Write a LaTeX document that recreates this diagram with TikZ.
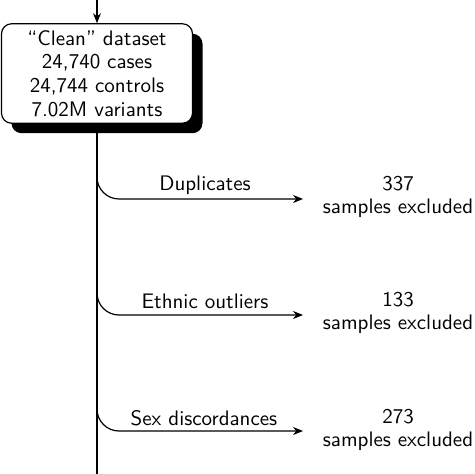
\documentclass[tikz,border=0pt]{standalone}
\usepackage{tikz}
\usetikzlibrary{shadows,arrows.meta,positioning}

\begin{document}
\begin{tikzpicture}[x=.5pt,y=-.5pt,font=\sffamily\fontsize{10.5}{11.8}\selectfont,line width=.6pt,
  databox/.style={draw,fill=white,rounded corners=5pt,minimum width=95.5pt,minimum height=49.5pt,align=center,
    drop shadow={shadow xshift=5pt,shadow yshift=-5pt,fill=black,opacity=1}},
  flow/.style={-{Stealth[length=5pt,width=4pt]}},
  excl/.style={align=center,inner sep=0pt}]
\useasboundingbox (0,0) rectangle (474,474);
\coordinate (top) at (97,0);
\coordinate (bottom) at (97,474);
\node[databox] (clean) at (97,73.5) {``Clean'' dataset\\24,740 cases\\24,744 controls\\7.02M variants};
\draw[flow] (top) -- (clean.north);
\draw (clean.south) -- (bottom);
% exclusion steps
\coordinate (b1) at (97,176);
\coordinate (e1) at (303,199);
\coordinate (b2) at (97,292);
\coordinate (e2) at (303,315);
\coordinate (b3) at (97,408);
\coordinate (e3) at (303,431);
\draw[flow,rounded corners=11pt] (b1) |- (e1);
\draw[flow,rounded corners=11pt] (b2) |- (e2);
\draw[flow,rounded corners=11pt] (b3) |- (e3);
\node (dup) at (205,185) {Duplicates};
\node (eth) at (205,301) {Ethnic outliers};
\node (sex) at (204,418) {Sex discordances};
\node[excl] (n1) at (398,197) {337\\samples excluded};
\node[excl] (n2) at (398,313) {133\\samples excluded};
\node[excl] (n3) at (398,430) {273\\samples excluded};
\end{tikzpicture}
\end{document}
